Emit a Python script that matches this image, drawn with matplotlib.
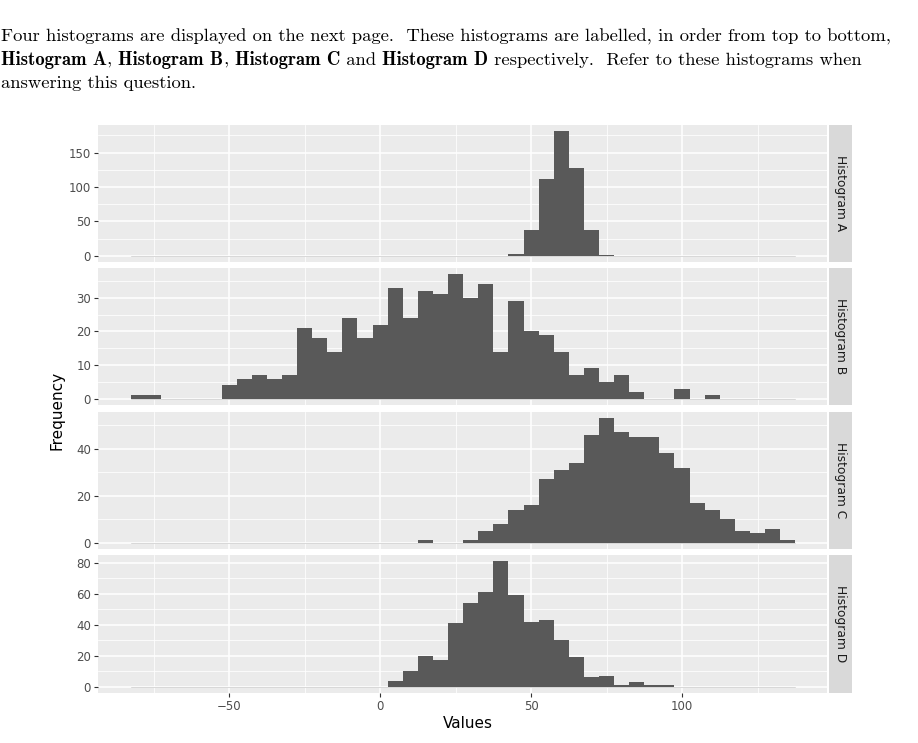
import numpy as np
import matplotlib
matplotlib.use("Agg")
import matplotlib.pyplot as plt

centers = np.arange(-80, 140, 5)  # 44 bins, width 5

a_centers = [45, 50, 55, 60, 65, 70, 75]
a_vals = [2, 38, 112, 181, 128, 38, 1]

b_vals = [1, 1, 0, 0, 0, 0,
          4, 6, 7, 6, 7, 21, 18, 14, 24, 18, 22, 33, 24, 32, 31, 37, 30, 34,
          14, 29, 20, 19, 14, 7, 9, 5, 7, 2,
          0, 0, 3, 0, 1, 0, 0, 0, 0, 0]

c_centers = [15, 30, 35, 40, 45, 50, 55, 60, 65, 70, 75, 80, 85, 90, 95,
             100, 105, 110, 115, 120, 125, 130, 135]
c_vals = [1, 1, 5, 8, 14, 16, 27, 31, 34, 46, 53, 47, 45, 45, 38,
          32, 17, 14, 10, 5, 4, 6, 1]

d_centers = [5, 10, 15, 20, 25, 30, 35, 40, 45, 50, 55, 60, 65, 70, 75, 80, 85, 90, 95]
d_vals = [4, 10, 20, 17, 41, 54, 61, 81, 59, 42, 43, 30, 19, 6, 7, 1, 3, 1, 1]

labels = ["Histogram A", "Histogram B", "Histogram C", "Histogram D"]
yticks = [[0, 50, 100, 150], [0, 10, 20, 30], [0, 20, 40], [0, 20, 40, 60, 80]]
xticks = [-50, 0, 50, 100]

def full(cs, vs):
    arr = np.zeros(len(centers))
    for c, v in zip(cs, vs):
        arr[list(centers).index(c)] = v
    return arr

data = [full(a_centers, a_vals), np.array(b_vals, float), full(c_centers, c_vals), full(d_centers, d_vals)]

W, H = 918, 743
fig = plt.figure(figsize=(W / 100, H / 100), dpi=100)

renderer = fig.canvas.get_renderer()
lines = [
    [("Four histograms are displayed on the next page.  These histograms are labelled, in order from top to bottom,", False)],
    [("Histogram A", True), (", ", False), ("Histogram B", True), (", ", False), ("Histogram C", True),
     (" and ", False), ("Histogram D", True), (" respectively.  Refer to these histograms when", False)],
    [("answering this question.", False)],
]
baselines = [42, 65, 88]
for segs, yb in zip(lines, baselines):
    x = 1
    for s, bold in segs:
        t = fig.text(x / W, 1 - yb / H, s, fontsize=13.4,
                     fontname="cmb10" if bold else "cmr10", va="baseline", ha="left", color="black")
        bb = t.get_window_extent(renderer)
        x += bb.width

left, right = 98, 827
panels = [(125, 262), (268, 405), (412, 549), (555, 693)]
for i, ((top, bot), cnt) in enumerate(zip(panels, data)):
    ax = fig.add_axes([left / W, 1 - bot / H, (right - left) / W, (bot - top) / H])
    ax.set_facecolor("#ebebeb")
    ax.bar(centers, cnt, width=5, color="#595959", edgecolor="none", zorder=3)
    ax.plot([-82.5, 137.5], [0, 0], color="#bdbdbd", lw=0.4, zorder=3)
    ax.set_xlim(-93.4, 148)
    m = cnt.max()
    ax.set_ylim(-0.05 * m, 1.05 * m)
    ax.set_xticks(xticks)
    ax.set_xticks([-75, -25, 25, 75, 125], minor=True)
    yt = yticks[i]
    ax.set_yticks(yt)
    step = yt[1] - yt[0]
    ax.set_yticks([v + step / 2 for v in [yt[0] - step] + yt if -0.05 * m < v + step / 2 < 1.05 * m], minor=True)
    ax.grid(which="major", color="white", lw=1.1, zorder=1)
    ax.grid(which="minor", color="white", lw=0.55, zorder=1)
    for sp in ax.spines.values():
        sp.set_visible(False)
    ax.tick_params(which="minor", length=0)
    ax.tick_params(which="major", length=3, color="#333333", width=0.8, labelsize=8.5, labelcolor="#4d4d4d", pad=2)
    if i < 3:
        ax.tick_params(axis="x", which="major", length=0, labelbottom=False)
    sax = fig.add_axes([829 / W, 1 - bot / H, 23 / W, (bot - top) / H])
    sax.set_facecolor("#d9d9d9")
    sax.set_xticks([]); sax.set_yticks([])
    for sp in sax.spines.values():
        sp.set_visible(False)
    sax.text(0.5, 0.5, labels[i], rotation=-90, ha="center", va="center", fontsize=8.8,
             color="#1a1a1a", transform=sax.transAxes)

fig.text(57 / W, 1 - 410 / H, "Frequency", rotation=90, ha="center", va="center", fontsize=11)
fig.text(468 / W, 1 - 723 / H, "Values", ha="center", va="center", fontsize=11)

fig.savefig("out.png", dpi=100)
